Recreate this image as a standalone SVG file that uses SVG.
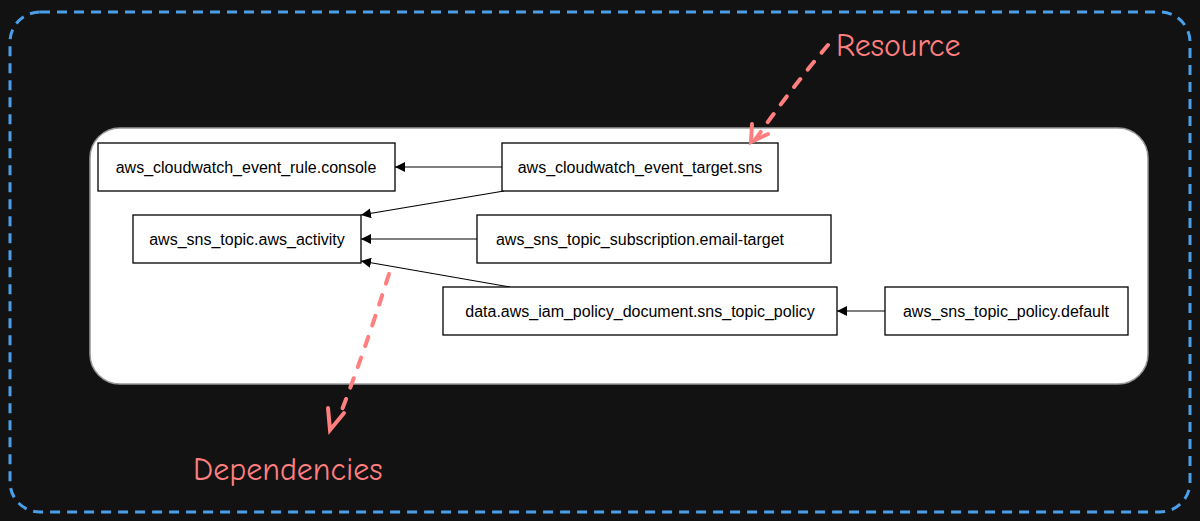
<svg xmlns="http://www.w3.org/2000/svg" width="1200" height="521" viewBox="0 0 1200 521">
<defs>
<style>
.n rect{fill:#fff;stroke:#000;stroke-width:1.3}
.n text{font-family:"Liberation Sans",Arial,sans-serif;font-size:16px;fill:#000;text-anchor:middle;dominant-baseline:central}
.e line{stroke:#000;stroke-width:1.2;marker-end:url(#ah)}
.ann{fill:none;stroke:#ff7f7f;stroke-width:4;stroke-linecap:round;stroke-dasharray:10 12}
.at{fill:#ff7f7f;font-family:"Comic Neue","Liberation Sans",sans-serif;font-size:32px}
</style>
<marker id="ah" viewBox="0 0 10 10" refX="10" refY="5" markerWidth="10" markerHeight="10" markerUnits="userSpaceOnUse" orient="auto"><path d="M0,0L10,5L0,10z" fill="#000"/></marker>
</defs>
<rect width="1200" height="521" fill="#121212"/>
<rect x="10" y="12" width="1180" height="500" rx="30" fill="none" stroke="#4a9fe8" stroke-width="3" stroke-dasharray="10 7"/>
<rect x="90" y="128" width="1058" height="256" rx="30" fill="#fff" stroke="#999" stroke-width="1.5"/>
<g id="connectors" class="e">
<line x1="502" y1="167" x2="395" y2="167"/>
<line x1="504" y1="191" x2="361" y2="215"/>
<line x1="477" y1="239" x2="361" y2="239"/>
<line x1="510" y1="287" x2="361" y2="261"/>
<line x1="885" y1="311" x2="837" y2="311"/>
</g>
<g id="n1" class="n"><rect x="98" y="143" width="297" height="48"/><text x="246" y="167">aws_cloudwatch_event_rule.console</text></g>
<g id="n2" class="n"><rect x="502" y="143" width="276" height="48"/><text x="640" y="167">aws_cloudwatch_event_target.sns</text></g>
<g id="n3" class="n"><rect x="133" y="215" width="228" height="48"/><text x="247" y="239">aws_sns_topic.aws_activity</text></g>
<g id="n4" class="n"><rect x="477" y="215" width="354" height="48"/><text x="640" y="239">aws_sns_topic_subscription.email-target</text></g>
<g id="n5" class="n"><rect x="443" y="287" width="394" height="48"/><text x="640" y="311">data.aws_iam_policy_document.sns_topic_policy</text></g>
<g id="n6" class="n"><rect x="885" y="287" width="243" height="48"/><text x="1006" y="311">aws_sns_topic_policy.default</text></g>
<g id="annotations">
<path class="ann" d="M828,45 Q790,90 755,140"/>
<path d="M752,124 L751,142 L768,134" fill="none" stroke="#ff7f7f" stroke-width="4" stroke-linecap="round"/>
<text class="at" x="836" y="56">Resource</text>
<path class="ann" d="M389,274 Q365,350 340,415"/>
<path d="M328,408 L330,430 L344,413" fill="none" stroke="#ff7f7f" stroke-width="4" stroke-linecap="round"/>
<text class="at" x="193" y="480">Dependencies</text>
</g>
</svg>
